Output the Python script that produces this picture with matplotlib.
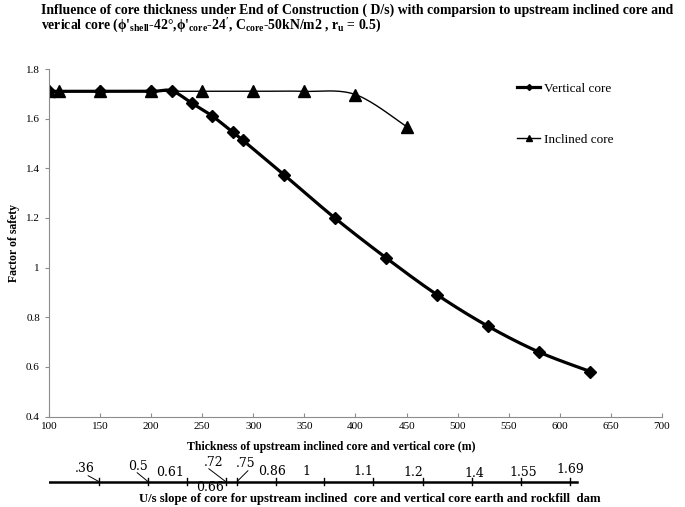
import numpy as np
from matplotlib import pyplot as plt

plt.rcParams['mathtext.fontset'] = 'custom'
plt.rcParams['mathtext.rm'] = 'Liberation Serif:bold'
plt.rcParams['mathtext.it'] = 'Liberation Serif:bold'
plt.rcParams['mathtext.bf'] = 'Liberation Serif:bold'

# data
vert_x = [100, 150, 200, 220, 240, 260, 280, 290, 330, 380, 430, 480, 530, 580, 630]
vert_y = [1.71, 1.71, 1.71, 1.712, 1.662, 1.610, 1.545, 1.512, 1.374, 1.199, 1.039, 0.890, 0.763, 0.659, 0.581]
incl_x = [100, 110, 150, 200, 250, 300, 350, 400, 450]
incl_y = [1.71, 1.71, 1.71, 1.71, 1.71, 1.71, 1.71, 1.697, 1.568]

yticks = [0.4, 0.6, 0.8, 1.0, 1.2, 1.4, 1.6, 1.8]
ytick_labels = ['0.4', '0.6', '0.8', '1', '1.2', '1.4', '1.6', '1.8']
xticks = list(range(100, 701, 50))

# U/s slope scale drawn under the chart (positions in thickness units)
slope_labels = ['.36', '0.5', '0.61', '0.66', '.72', '.75', '0.86', '1', '1.1', '1.2', '1.4', '1.55', '1.69']
slope_pos = [149, 197, 235, 267, 273, 284, 322, 369, 417, 466, 514, 562, 610]
slope_ticks = [149, 197, 235, 273, 284, 322, 369, 417, 466, 514, 562, 610]
slope_span = [99, 617]

serif = 'Liberation Serif'
grey = '#8c8c8c'

fig = plt.figure(figsize=(6.85, 5.07), dpi=100)
ax = fig.add_axes([0.0715, 0.1785, 0.8949, 0.6854])
ax.set_xlim(100, 700)
ax.set_ylim(0.4, 1.8)


def smooth(x, y, n=20):
    # excel-like smoothed line (bezier through points, done in pixel space)
    p = ax.transData.transform(np.column_stack([x, y]))
    out = [p[0]]
    for i in range(len(p) - 1):
        p0 = p[max(i - 1, 0)]
        p1 = p[i]
        p2 = p[i + 1]
        p3 = p[min(i + 2, len(p) - 1)]
        c1 = p1 + (p2 - p0) / 6
        c2 = p2 - (p3 - p1) / 6
        t = np.linspace(0, 1, n)[1:, None]
        seg = (1 - t) ** 3 * p1 + 3 * (1 - t) ** 2 * t * c1 + 3 * (1 - t) * t ** 2 * c2 + t ** 3 * p2
        out.extend(seg)
    d = ax.transData.inverted().transform(np.array(out))
    return d[:, 0], d[:, 1]


sx, sy = smooth(incl_x, incl_y)
ax.plot(sx, sy, color='black', lw=1)
ax.plot(incl_x, incl_y, ls='none', marker='^', ms=8, color='black')
sx, sy = smooth(vert_x, vert_y)
ax.plot(sx, sy, color='black', lw=2.3)
ax.plot(vert_x, vert_y, ls='none', marker='D', ms=6, color='black')

# legend handles
lv, = ax.plot([], [], color='black', lw=2.3, marker='D', ms=3)
li, = ax.plot([], [], color='black', lw=1, marker='^', ms=5)
leg = fig.legend([lv, li], ['Vertical core', 'Inclined core'], loc='upper left',
                 bbox_to_anchor=(0.737, 0.86), frameon=False, handlelength=1.8,
                 handletextpad=0.3, labelspacing=2.9, prop={'family': serif, 'size': 9.5})

for s in ['top', 'right']:
    ax.spines[s].set_visible(False)
for s in ['left', 'bottom']:
    ax.spines[s].set_color(grey)
    ax.spines[s].set_linewidth(0.8)
ax.set_yticks(yticks)
ax.set_yticklabels(ytick_labels)
ax.set_xticks(xticks)
ax.tick_params(axis='both', colors=grey, labelcolor='black', labelsize=8, length=3)
ax.tick_params(axis='x', direction='in', pad=4)
for lab in ax.get_xticklabels() + ax.get_yticklabels():
    lab.set_family(serif)

ax.set_ylabel('Factor of safety', family=serif, fontweight='bold', fontsize=8.5)
ax.yaxis.set_label_coords(-0.048, 0.5)

fig.text(0.483, 0.118, 'Thickness of upstream inclined core and vertical core (m)',
         ha='center', va='center', family=serif, fontweight='bold', fontsize=8.5)

# title
fig.text(0.06, 0.98, 'Influence of core thickness under End of Construction ( D/s) with comparsion to upstream inclined core and',
         ha='left', va='center', family=serif, fontweight='bold', fontsize=9.9)
fig.text(0.06, 0.948,
         r"verical core (ϕ$'_{\rm shell}$-42°,ϕ$'_{\rm core}$-24$'$, C$_{\rm core}$-50kN/m2 , r$_{\rm u}$ = 0.5)",
         ha='left', va='center', family=serif, fontweight='bold', fontsize=9.9)

# U/s slope scale
ax2 = fig.add_axes([0.0715, 0.03, 0.8949, 0.08])
ax2.set_xlim(100, 700)
ax2.set_ylim(0, 1)
ax2.axis('off')
yl = 0.25
ax2.plot(slope_span, [yl, yl], color='black', lw=1.8)
ax2.plot([slope_span[0], slope_span[0]], [0.0, 0.75], color=grey, lw=0.7)
for t in slope_ticks:
    ax2.plot([t, t], [yl - 0.08, yl + 0.08], color='black', lw=1)

offs = {'.36': (-14, 13), '0.5': (-10, 15), '0.61': (-17, 9), '0.66': (-10, -6),
        '.72': (-12, 19), '.75': (9, 18), '0.86': (-4, 10), '1': (-17, 10),
        '1.1': (-9, 10), '1.2': (-10, 9), '1.4': (2, 8), '1.55': (2, 9), '1.69': (0, 12)}
leaders = {'.36': (-11, 6), '0.5': (-11, 9), '.72': (-17, 13), '.75': (11, 11)}
for lab, p in zip(slope_labels, slope_pos):
    dx, dy = offs[lab]
    ax2.annotate(lab, (p, yl), xytext=(dx, dy), textcoords='offset pixels',
                 ha='center', va='center', family='DejaVu Serif', fontsize=9)
    if lab in leaders:
        lx, ly = leaders[lab]
        ax2.annotate('', (p, yl), xytext=(lx, ly), textcoords='offset pixels',
                     arrowprops=dict(arrowstyle='-', color='black', lw=0.7, shrinkA=0, shrinkB=0))

fig.text(0.54, 0.016, 'U/s slope of core for upstream inclined  core and vertical core earth and rockfill  dam',
         ha='center', va='center', family=serif, fontweight='bold', fontsize=9.2)

fig.savefig('out.png', dpi=100)
